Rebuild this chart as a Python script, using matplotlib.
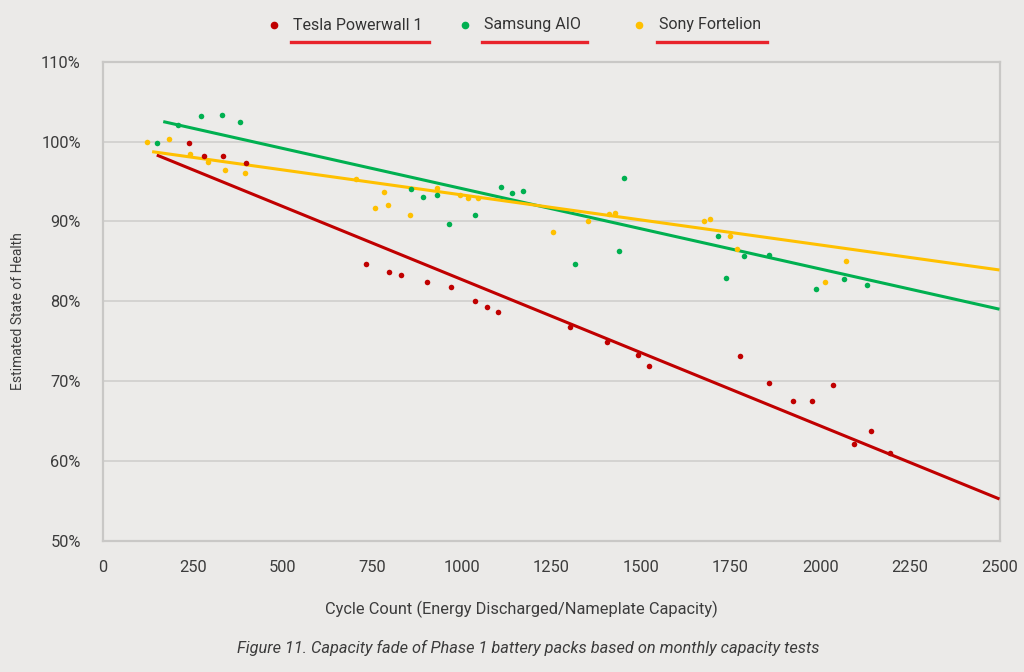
import numpy as np
import matplotlib
matplotlib.use("Agg")
import matplotlib.pyplot as plt
from matplotlib.lines import Line2D
from matplotlib.ticker import FuncFormatter

plt.rcParams['font.family'] = ['Roboto', 'DejaVu Sans']

series_names = ["Tesla Powerwall 1", "Samsung AIO", "Sony Fortelion"]
series_colors = ["#C00000", "#00B050", "#FFC000"]

tesla_x = [239, 282, 335, 399, 734, 798, 830, 904, 971, 1037, 1070, 1101, 1302, 1405,
           1492, 1523, 1777, 1856, 1923, 1977, 2035, 2094, 2142, 2195]
tesla_y = [99.8, 98.15, 98.15, 97.3, 84.7, 83.6, 83.25, 82.45, 81.75, 80.0, 79.25, 78.7,
           76.75, 74.9, 73.2, 71.9, 73.1, 69.7, 67.55, 67.55, 69.45, 62.1, 63.8, 61.0]

samsung_x = [151, 210, 273, 331, 383, 858, 892, 932, 964, 1038, 1109, 1140, 1170, 1317,
             1439, 1453, 1714, 1738, 1787, 1858, 1989, 2066, 2130]
samsung_y = [99.8, 102.1, 103.15, 103.3, 102.4, 94.1, 93.0, 93.25, 89.65, 90.8, 94.3, 93.5,
             93.85, 84.7, 86.3, 95.45, 88.2, 82.95, 85.6, 85.75, 81.5, 82.8, 82.05]

sony_x = [124, 184, 242, 294, 340, 397, 706, 784, 759, 796, 856, 931, 996, 1017, 1047,
          1254, 1352, 1410, 1427, 1676, 1694, 1748, 1769, 2014, 2073]
sony_y = [99.9, 100.3, 98.45, 97.45, 96.4, 96.1, 95.35, 93.7, 91.7, 92.05, 90.8, 94.2, 93.25,
          92.95, 92.95, 88.7, 90.1, 90.95, 91.0, 90.0, 90.25, 88.2, 86.55, 82.4, 85.05]

# linear trendlines (SoH % = intercept + slope * cycles)
trend_slope = [-0.018336, -0.010077, -0.006272]
trend_intercept = [101.06, 104.19, 99.59]
trend_start = [150, 168, 137]
trend_end = 2500

x_ticks = [0, 250, 500, 750, 1000, 1250, 1500, 1750, 2000, 2250, 2500]
y_ticks = [50, 60, 70, 80, 90, 100, 110]

BG = "#EBEAE8"
TXT = "#3C3C3C"
W, H = 1024, 672
fig = plt.figure(figsize=(W / 100, H / 100), dpi=100, facecolor=BG)
ax = fig.add_axes([103 / W, 1 - 540.7 / H, (999.5 - 103) / W, (540.7 - 61.7) / H])
ax.set_facecolor("#ECEBE9")

xs = [tesla_x, samsung_x, sony_x]
ys = [tesla_y, samsung_y, sony_y]
for i in range(3):
    tx = np.array([trend_start[i], trend_end], float)
    ax.plot(tx, trend_intercept[i] + trend_slope[i] * tx, color=series_colors[i], lw=2.2,
            zorder=3, solid_capstyle='butt')
for i in range(3):
    ax.scatter(xs[i], ys[i], s=16, color=series_colors[i], zorder=4, linewidths=0)

ax.set_xlim(0, 2500)
ax.set_ylim(50, 110)
ax.set_xticks(x_ticks)
ax.set_yticks(y_ticks)
ax.yaxis.set_major_formatter(FuncFormatter(lambda v, p: f"{v:.0f}%"))
ax.grid(axis='y', color="#D2D1CF", lw=1.3)
ax.set_axisbelow(True)
for s in ax.spines.values():
    s.set_color("#C9C8C6")
    s.set_linewidth(1.6)
ax.tick_params(length=0, labelsize=11.8, colors=TXT, pad=14)
ax.tick_params(axis='y', pad=16)

fig.text(521 / W, 1 - 609 / H, "Cycle Count (Energy Discharged/Nameplate Capacity)",
         ha='center', va='center', fontsize=11.8, color=TXT)
fig.text(18 / W, 1 - 311 / H, "Estimated State of Health", rotation=90,
         ha='center', va='center', fontsize=10, color=TXT)
fig.text(528 / W, 1 - 648 / H,
         "Figure 11. Capacity fade of Phase 1 battery packs based on monthly capacity tests",
         ha='center', va='center', fontsize=11.8, color=TXT, style='italic')

# legend
dot_x = [273.5, 465, 639]
text_x = [293, 484, 659]
leg_y = 25
renderer = fig.canvas.get_renderer()
for i in range(3):
    fig.add_artist(Line2D([dot_x[i] / W], [1 - leg_y / H], transform=fig.transFigure,
                          marker='o', ms=4.5, color=series_colors[i], lw=0))
    t = fig.text(text_x[i] / W, 1 - leg_y / H, series_names[i], ha='left', va='center',
                 fontsize=11.5, color="#333333")
    bb = t.get_window_extent(renderer)
    x0 = (bb.x0 - 2) / W
    x1 = (bb.x1 + 6) / W
    fig.add_artist(Line2D([x0, x1], [1 - 42 / H] * 2, transform=fig.transFigure,
                          color="#E8232B", lw=2.4))

fig.savefig("out.png", dpi=100, facecolor=BG)
